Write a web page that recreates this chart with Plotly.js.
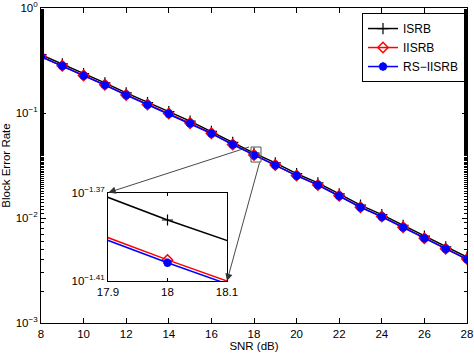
<!DOCTYPE html>
<html>
<head>
<meta charset="utf-8">
<script src="https://cdn.plot.ly/plotly-3.0.1.min.js"></script>
<style>html,body{margin:0;padding:0;background:#fff;}#chart{width:474px;height:353px;}</style>
</head>
<body>
<div id="chart"></div>
<script>
// ---- data ----
const snr = [8, 9, 10, 11, 12, 13, 14, 15, 16, 17, 18, 19, 20, 21, 22, 23, 24, 25, 26, 27, 28];
const isrb = [0.3598, 0.2937, 0.2371, 0.1936, 0.1553, 0.1255, 0.1030, 0.0836, 0.0668, 0.0525, 0.04146,
              0.0335, 0.02648, 0.02158, 0.01698, 0.01324, 0.01076, 0.00853, 0.00671, 0.00531, 0.00424];
const iisrb = [0.3447, 0.2814, 0.2272, 0.1855, 0.1488, 0.1203, 0.0987, 0.0801, 0.0640, 0.0502, 0.03977,
               0.03192, 0.02537, 0.02067, 0.01627, 0.01269, 0.01031, 0.00818, 0.00643, 0.00509, 0.00406];
const rsiisrb = [0.3436, 0.2805, 0.2265, 0.1849, 0.1483, 0.1199, 0.0984, 0.0798, 0.0638, 0.0501, 0.03965,
                 0.03184, 0.02529, 0.02061, 0.01622, 0.01265, 0.01028, 0.00815, 0.00641, 0.00507, 0.00405];
const seriesNames = ['ISRB', 'IISRB', 'RS\u2212IISRB'];
const mainXTicks = [8, 10, 12, 14, 16, 18, 20, 22, 24, 26, 28];
const mainYTickExp = [-3, -2, -1, 0];
const insetXTicks = [17.9, 18, 18.1];
const insetYTickExp = [-1.41, -1.37];

const FONT = 'Liberation Sans, Arial, Helvetica, sans-serif';
const sup = e => '10<sup>' + String(e).replace('-', '\u2212') + '</sup>';

const styles = [
  {line: {color: '#000000', width: 1.5}, marker: {symbol: 'cross-thin-open', size: 8, color: '#000000', line: {color: '#000000', width: 1.2}}},
  {line: {color: '#ff0000', width: 1.5}, marker: {symbol: 'diamond-open', size: 8, color: '#ff0000', line: {color: '#ff0000', width: 1.5}}},
  {line: {color: '#0000ff', width: 1.5}, marker: {symbol: 'asterisk-open', size: 7, color: '#0000ff', line: {color: '#0000ff', width: 2.6}}}
];
const ys = [isrb, iisrb, rsiisrb];

const traces = [];
ys.forEach((y, i) => {
  traces.push({x: snr, y: y, name: seriesNames[i], type: 'scatter', mode: 'lines+markers',
    line: styles[i].line, marker: styles[i].marker, xaxis: 'x', yaxis: 'y'});
});
ys.forEach((y, i) => {
  traces.push({x: snr, y: y, name: seriesNames[i], type: 'scatter', mode: 'lines+markers', showlegend: false,
    line: styles[i].line, marker: styles[i].marker, xaxis: 'x2', yaxis: 'y2'});
});

const axisCommon = {showline: true, linecolor: '#000', linewidth: 1, mirror: 'allticks', ticks: 'inside',
  tickcolor: '#000', showgrid: false, zeroline: false, tickfont: {family: FONT, size: 11.5, color: '#000'}};

const layout = {
  width: 474, height: 353,
  margin: {l: 41, r: 7, t: 8, b: 30, pad: 0},
  paper_bgcolor: '#fff', plot_bgcolor: '#fff',
  font: {family: FONT, size: 11.5, color: '#000'},
  showlegend: true,
  legend: {x: 0.7535, y: 0.984, xanchor: 'left', yanchor: 'top', bgcolor: '#fff', bordercolor: '#000', borderwidth: 1,
    font: {family: FONT, size: 12, color: '#000'}, tracegroupgap: 0, itemwidth: 30},
  xaxis: Object.assign({}, axisCommon, {range: [8, 28], tickmode: 'array', tickvals: mainXTicks, ticklen: 5,
    title: {text: 'SNR (dB)', font: {family: FONT, size: 11.5}, standoff: 2}}),
  yaxis: Object.assign({}, axisCommon, {type: 'log', range: [-3, 0], tickmode: 'array',
    tickvals: mainYTickExp.map(e => Math.pow(10, e)), ticktext: mainYTickExp.map(sup), ticklen: 5,
    minor: {ticks: 'inside', ticklen: 3, tickcolor: '#000', showgrid: false},
    title: {text: 'Block Error Rate', font: {family: FONT, size: 11.5}, standoff: 4}}),
  xaxis2: Object.assign({}, axisCommon, {domain: [0.1573, 0.4366], anchor: 'y2', range: [17.9, 18.1],
    tickmode: 'array', tickvals: insetXTicks, ticktext: insetXTicks.map(String), ticklen: 3}),
  yaxis2: Object.assign({}, axisCommon, {domain: [0.1333, 0.4137], anchor: 'x2', type: 'log',
    range: [insetYTickExp[0], insetYTickExp[1]], tickmode: 'array',
    tickvals: insetYTickExp.map(e => Math.pow(10, e)), ticktext: insetYTickExp.map(sup), ticklen: 3}),
  shapes: [
    {type: 'rect', xref: 'paper', yref: 'paper', x0: 0.493, x1: 0.5164, y0: 0.511, y1: 0.5587,
      line: {color: '#555', width: 1}, fillcolor: 'rgba(0,0,0,0)'}
  ],
  annotations: [
    {xref: 'paper', yref: 'paper', x: 0.1585, y: 0.4143, ax: 142, ay: -46, text: '', showarrow: true,
      arrowhead: 2, arrowsize: 1.6, arrowwidth: 0.9, arrowcolor: '#333'},
    {xref: 'paper', yref: 'paper', x: 0.4366, y: 0.1333, ax: 33, ay: -120, text: '', showarrow: true,
      arrowhead: 2, arrowsize: 1.6, arrowwidth: 0.9, arrowcolor: '#333'}
  ]
};

Plotly.newPlot('chart', traces, layout, {staticPlot: true, displayModeBar: false});
</script>
</body>
</html>
